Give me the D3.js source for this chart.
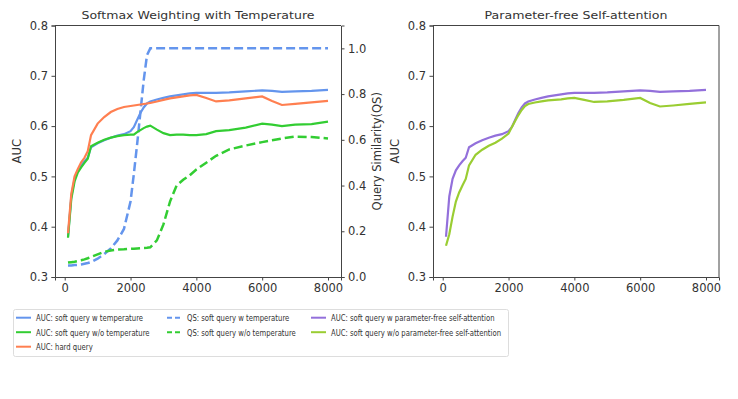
<!DOCTYPE html>
<meta charset="utf-8">
<style>
body {margin: 0; background: white;}
text {font-family: "DejaVu Sans", sans-serif; fill: #333;}
.axis path, .axis line {stroke: #444;}
.axis text {font-size: 11.5px; fill: #333;}
.title {font-size: 11px;}
.ylabel {font-size: 11.5px;}
.legend text {font-size: 9.3px;}
</style>
<body>
<script src="https://d3js.org/d3.v7.min.js"></script>
<script>
var width = 738, height = 399

// training steps shared by every series
var steps = [100, 200, 300, 400, 500, 600, 700, 800, 1000, 1200, 1400, 1600, 1800, 2000,
  2100, 2200, 2300, 2400, 2500, 2600, 2800, 3000, 3200, 3400, 3600, 3800, 4000,
  4300, 4600, 5000, 5500, 6000, 6300, 6600, 7000, 7500, 8000]

// left panel: AUC
var aucSoftTemp = [0.38, 0.46, 0.495, 0.512, 0.522, 0.53, 0.537, 0.558, 0.566, 0.572, 0.577, 0.581, 0.584, 0.59,
  0.598, 0.612, 0.626, 0.637, 0.645, 0.649, 0.653, 0.656, 0.659, 0.661, 0.663, 0.665, 0.666,
  0.666, 0.666, 0.667, 0.669, 0.671, 0.670, 0.668, 0.669, 0.670, 0.672]
var aucSoftNoTemp = [0.378, 0.455, 0.49, 0.508, 0.518, 0.527, 0.535, 0.56, 0.567, 0.573, 0.577, 0.58, 0.582, 0.583,
  0.583, 0.588, 0.592, 0.596, 0.599, 0.601, 0.593, 0.586, 0.582, 0.583, 0.583, 0.582, 0.582,
  0.584, 0.59, 0.592, 0.597, 0.605, 0.603, 0.600, 0.603, 0.604, 0.609]
var aucHard = [0.387, 0.465, 0.5, 0.515, 0.528, 0.537, 0.55, 0.582, 0.605, 0.618, 0.628, 0.634, 0.638, 0.64,
  0.641, 0.642, 0.643, 0.644, 0.645, 0.646, 0.649, 0.652, 0.655, 0.657, 0.659, 0.661, 0.662,
  0.656, 0.649, 0.651, 0.655, 0.659, 0.650, 0.642, 0.644, 0.647, 0.65]
// left panel: query similarity (right axis)
var qsSoftTemp = [0.05, 0.05, 0.052, 0.053, 0.055, 0.058, 0.061, 0.065, 0.08, 0.1, 0.125, 0.16, 0.21, 0.33,
  0.45, 0.58, 0.72, 0.86, 0.97, 1.0, 1.0, 1.0, 1.0, 1.0, 1.0, 1.0, 1.0,
  1.0, 1.0, 1.0, 1.0, 1.0, 1.0, 1.0, 1.0, 1.0, 1.0]
var qsSoftNoTemp = [0.063, 0.065, 0.067, 0.07, 0.073, 0.077, 0.082, 0.088, 0.099, 0.11, 0.116, 0.12, 0.121, 0.123,
  0.124, 0.125, 0.126, 0.127, 0.128, 0.13, 0.16, 0.23, 0.33, 0.4, 0.425, 0.445, 0.47,
  0.5, 0.53, 0.558, 0.575, 0.59, 0.598, 0.606, 0.614, 0.612, 0.606]

// right panel: AUC
var aucSelfAttn = [0.38, 0.46, 0.495, 0.512, 0.522, 0.53, 0.537, 0.558, 0.566, 0.572, 0.577, 0.581, 0.584, 0.59,
  0.598, 0.612, 0.626, 0.637, 0.645, 0.649, 0.653, 0.656, 0.659, 0.661, 0.663, 0.665, 0.666,
  0.666, 0.666, 0.667, 0.669, 0.671, 0.670, 0.668, 0.669, 0.670, 0.672]
var aucNoSelfAttn = [0.362, 0.385, 0.42, 0.45, 0.468, 0.482, 0.495, 0.522, 0.543, 0.553, 0.561, 0.567, 0.575, 0.585,
  0.598, 0.61, 0.622, 0.632, 0.64, 0.644, 0.647, 0.649, 0.651, 0.652, 0.653, 0.655, 0.656,
  0.652, 0.648, 0.649, 0.652, 0.656, 0.646, 0.639, 0.641, 0.644, 0.647]

var xTicks = [0, 2000, 4000, 6000, 8000]
var aucTicks = [0.3, 0.4, 0.5, 0.6, 0.7, 0.8]
var qsTicks = [0, 0.2, 0.4, 0.6, 0.8, 1.0]

var legendItems = [
  {label: "AUC: soft query w temperature", color: "#6495ED", dash: false, col: 0, row: 0},
  {label: "AUC: soft query w/o temperature", color: "#32CD32", dash: false, col: 0, row: 1},
  {label: "AUC: hard query", color: "#FF7F50", dash: false, col: 0, row: 2},
  {label: "QS: soft query w temperature", color: "#6495ED", dash: true, col: 1, row: 0},
  {label: "QS: soft query w/o temperature", color: "#32CD32", dash: true, col: 1, row: 1},
  {label: "AUC: soft query w parameter-free self-attention", color: "#9370DB", dash: false, col: 2, row: 0},
  {label: "AUC: soft query w/o parameter-free self-attention", color: "#9ACD32", dash: false, col: 2, row: 1}
]

var svg = d3.select("body").append("svg")
  .attr("width", width).attr("height", height)

var plotTop = 25.5, plotBottom = 277
var yAuc = d3.scaleLinear().domain([0.3, 0.8]).range([plotBottom, plotTop])
var yQs = d3.scaleLinear().domain([0, 1.1]).range([plotBottom, plotTop])

function panel(x0, x1, title, titleWidth) {
  var x = d3.scaleLinear().domain([-295, 8395]).range([x0, x1])
  var g = svg.append("g")
  g.append("g").attr("class", "axis").attr("transform", "translate(0," + plotBottom + ")")
    .call(d3.axisBottom(x).tickValues(xTicks).tickSize(3.5).tickPadding(3.5).tickFormat(d3.format("d")))
  g.append("g").attr("class", "axis").attr("transform", "translate(" + x0 + ",0)")
    .call(d3.axisLeft(yAuc).tickValues(aucTicks).tickSize(3.5).tickPadding(3.5).tickFormat(d3.format(".1f")))
  g.append("line").attr("x1", x0).attr("x2", x1).attr("y1", plotTop).attr("y2", plotTop).attr("stroke", "#444")
  g.append("text").attr("class", "title").attr("x", (x0 + x1) / 2).attr("y", 19)
    .attr("text-anchor", "middle").attr("textLength", titleWidth)
    .attr("lengthAdjust", "spacingAndGlyphs").text(title)
  g.append("text").attr("class", "ylabel")
    .attr("transform", "translate(" + (x0 - 34) + "," + (plotTop + plotBottom) / 2 + ") rotate(-90)")
    .attr("text-anchor", "middle").text("AUC")
  return {g: g, x: x, x1: x1}
}

function drawLine(p, y, vals, color, dashed) {
  var line = d3.line().x(function(d, i) { return p.x(steps[i]) }).y(function(d) { return y(d) })
  p.g.append("path").datum(vals).attr("d", line)
    .attr("fill", "none").attr("stroke", color)
    .attr("stroke-width", dashed ? 2.5 : 2.2)
    .attr("stroke-dasharray", dashed ? "9,4" : null)
}

var left = panel(55, 341, "Softmax Weighting with Temperature", 233)
// twin axis on the right of the left panel
left.g.append("g").attr("class", "axis").attr("transform", "translate(341,0)")
  .call(d3.axisRight(yQs).tickValues(qsTicks).tickSize(3.5).tickPadding(3.5).tickFormat(d3.format(".1f")))
left.g.append("text").attr("class", "ylabel")
  .attr("transform", "translate(381," + (plotTop + plotBottom) / 2 + ") rotate(-90)")
  .attr("text-anchor", "middle").text("Query Similarity(QS)")
drawLine(left, yQs, qsSoftTemp, "#6495ED", true)
drawLine(left, yQs, qsSoftNoTemp, "#32CD32", true)
drawLine(left, yAuc, aucSoftTemp, "#6495ED", false)
drawLine(left, yAuc, aucSoftNoTemp, "#32CD32", false)
drawLine(left, yAuc, aucHard, "#FF7F50", false)

var right = panel(433, 719, "Parameter-free Self-attention", 183)
right.g.append("line").attr("x1", 719).attr("x2", 719).attr("y1", plotTop).attr("y2", plotBottom).attr("stroke", "#444")
drawLine(right, yAuc, aucSelfAttn, "#9370DB", false)
drawLine(right, yAuc, aucNoSelfAttn, "#9ACD32", false)

// legend
var lg = svg.append("g").attr("class", "legend")
lg.append("rect").attr("x", 13.5).attr("y", 309.5).attr("width", 495).attr("height", 47)
  .attr("rx", 2).attr("fill", "white").attr("stroke", "#ddd")
var colX = [16, 167, 311]
var item = lg.selectAll(".item").data(legendItems).enter().append("g")
  .attr("transform", function(d) { return "translate(" + colX[d.col] + "," + (317.7 + d.row * 14.5) + ")" })
item.append("line").attr("x1", 0).attr("x2", 15).attr("y1", 0).attr("y2", 0)
  .attr("stroke", function(d) { return d.color }).attr("stroke-width", 2)
  .attr("stroke-dasharray", function(d) { return d.dash ? "5,3" : null })
// reference legend text is drawn narrow, so squeeze it horizontally
item.append("text").attr("transform", "translate(20,3.4) scale(0.74,1)")
  .text(function(d) { return d.label })
</script>
